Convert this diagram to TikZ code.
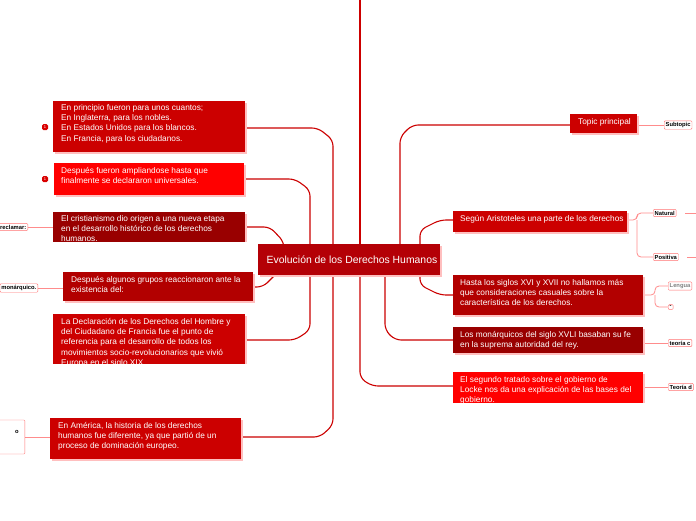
\documentclass[tikz,border=0pt]{standalone}
\usepackage{fontspec}
\setmainfont{Liberation Sans}
\begin{document}
\begin{tikzpicture}[x=1pt,y=-1pt,
  box/.style={rectangle,inner sep=0,anchor=north west,preaction={fill=red!25,transform canvas={shift={(2pt,-2pt)}}}},
  txt/.style={anchor=north west,inner sep=0,text=white,font=\fontsize{8.3}{10.3}\selectfont,align=left},
  sm/.style={draw=red!55,fill=white,rounded corners=1pt,inner sep=1.5pt,font=\fontsize{5.8}{6}\selectfont\bfseries,anchor=west},
  badge/.style={fill=red!85!black,rounded corners=1.5pt,minimum width=6pt,minimum height=6pt,inner sep=0,text=white,font=\fontsize{4}{4}\selectfont},
  ln/.style={draw=red!80!black,line width=1.1pt,rounded corners=6pt},
  thin/.style={draw=red!45,line width=0.8pt,rounded corners=4pt}]
\useasboundingbox (0,0) rectangle (696,520);
\fill[white] (0,0) rectangle (696,520);
% connectors
\draw[ln] (360,244) -- (360,0);
\draw[ln] (360,275) -- (360,378) -- (372,386) -- (453,386);
\draw[ln] (400,244) -- (400,137) -- (412,125) -- (570,125);
\draw[ln] (420,244) -- (420,230) -- (440,220) -- (453,220);
\draw[ln] (420,275) -- (420,285) -- (440,295) -- (453,295);
\draw[ln] (385,275) -- (385,330) -- (395,340) -- (453,340);
\draw[ln] (333,244) -- (333,140) -- (318,128) -- (245,128);
\draw[ln] (333,275) -- (333,425) -- (320,437) -- (241,437);
\draw[ln] (310,244) -- (310,190) -- (295,179) -- (244,179);
\draw[ln] (310,275) -- (310,330) -- (295,340) -- (245,340);
\draw[ln] (284,250) -- (284,242) -- (270,227) -- (245,227);
\draw[ln] (275,275) -- (263,287) -- (253,287);
% thin connectors
\draw[thin] (637,125) -- (664,125);
\draw[thin] (627,220) -- (637,220) -- (637,213) -- (653,213);
\draw[thin] (637,220) -- (637,257) -- (653,257);
\draw[thin] (685,213) -- (696,213);
\draw[thin] (687,257) -- (696,257);
\draw[thin] (643,295) -- (655,295) -- (655,286) -- (668,286);
\draw[thin] (655,295) -- (655,307) -- (668,307);
\draw[thin] (643,343) -- (668,343);
\draw[thin] (643,387) -- (668,387);
\draw[thin] (53,227) -- (28,227);
\draw[thin] (63,288) -- (38,288);
\draw[thin] (50,437) -- (25,437);
% center
\node[box,fill=red!70!black!90!purple,minimum width=182pt,minimum height=31pt] (c) at (258,244) {};
\node[text=white,font=\fontsize{10.4}{12}\selectfont] (ct) at (352,259.5) {Evolución de los Derechos Humanos};
% left boxes
\node[box,fill=red!80!black,minimum width=192pt,minimum height=51pt] (l1) at (53,101) {};
\node[txt] (l1t) at (61,104) {En principio fueron para unos cuantos;\\En Inglaterra, para los nobles.\\En Estados Unidos para los blancos.\\En Francia, para los ciudadanos.};
\node[box,fill=red,minimum width=190pt,minimum height=32pt] (l2) at (54,163) {};
\node[txt] (l2t) at (61,167) {Después fueron ampliandose hasta que\\finalmente se declararon universales.};
\node[box,fill=red!60!black,minimum width=192pt,minimum height=30pt] (l3) at (53,212) {};
\node[txt] (l3t) at (61,215) {El cristianismo dio origen a una nueva etapa\\en el desarrollo histórico de los derechos\\humanos.};
\fill[white] (53,242) rectangle (247,250);
\node[box,fill=red!70!black,minimum width=190pt,minimum height=29pt] (l4) at (63,272) {};
\node[txt] (l4t) at (71,276) {Después algunos grupos reaccionaron ante la\\existencia del:};
\node[box,fill=red!80!black,minimum width=192pt,minimum height=50pt] (l5) at (53,314) {};
\node[txt] (l5t) at (61,318) {La Declaración de los Derechos del Hombre y\\del Ciudadano de Francia fue el punto de\\referencia para el desarrollo de todos los\\movimientos socio-revolucionarios que vivió\\Europa en el siglo XIX.};
\fill[white] (53,364) rectangle (247,372);
\node[box,fill=red!80!black,minimum width=191pt,minimum height=41pt] (l6) at (50,418) {};
\node[txt] (l6t) at (58,422) {En América, la historia de los derechos\\humanos fue diferente, ya que partió de un\\proceso de dominación europeo.};
% right boxes
\node[box,fill=red!80!black,minimum width=67pt,minimum height=19pt] (r1) at (570,114) {};
\node[txt] (r1t) at (578,118) {Topic principal};
\node[box,fill=red!80!black,minimum width=174pt,minimum height=21pt] (r2) at (453,211) {};
\node[txt] (r2t) at (460,215) {Según Aristoteles una parte de los derechos};
\node[box,fill=red!70!black,minimum width=190pt,minimum height=40pt] (r3) at (453,275) {};
\node[txt] (r3t) at (460,279) {Hasta los siglos XVI y XVII no hallamos más\\que consideraciones casuales sobre la\\característica de los derechos.};
\node[box,fill=red!60!black,minimum width=190pt,minimum height=26pt] (r4) at (453,327) {};
\node[txt] (r4t) at (460,331) {Los monárquicos del siglo XVLI basaban su fe\\en la suprema autoridad del rey.};
\node[box,fill=red,minimum width=190pt,minimum height=31pt] (r5) at (453,372) {};
\node[txt] (r5t) at (460,376) {El segundo tratado sobre el gobierno de\\Locke nos da una explicación de las bases del\\gobierno.};
\fill[white] (453,403) rectangle (645,412);
% small nodes
\node[sm] (s1) at (664,125) {Subtopic};
\node[sm] (s2) at (653,213) {Natural};
\node[sm] (s3) at (653,257) {Positiva};
\node[sm,text=gray] (s4) at (668,286) {Lengua};
\node[sm] (s5) at (668,307) {-};
\node[sm] (s6) at (668,343) {teoría c};
\node[sm] (s7) at (668,387) {Teoría d};
\node[sm,anchor=east] (s8) at (28,227) {reclamar:};
\node[sm,anchor=east] (s9) at (38,288) {monárquico.};
\node[sm,anchor=east,minimum height=34pt,minimum width=30pt,text depth=10pt,align=left] (s10) at (25,437) {\hspace*{14pt}o};
\node[badge] (m1) at (45,127) {1};
\node[badge] (m2) at (45,179) {1};
\end{tikzpicture}
\end{document}
